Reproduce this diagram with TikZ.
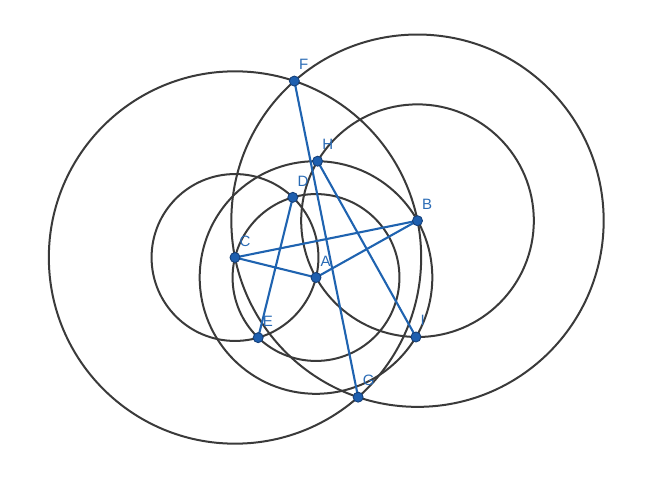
\documentclass[tikz,border=0pt]{standalone}
\usepackage{fontspec}
\setmainfont{Liberation Sans}
\usetikzlibrary{calc}
\definecolor{circcol}{HTML}{3A3A3A}
\definecolor{segcol}{HTML}{1F63B0}
\definecolor{labcol}{HTML}{2A6BB5}
\definecolor{ptfill}{HTML}{1E5FAF}
\definecolor{ptdraw}{HTML}{15407A}
\begin{document}
\begin{tikzpicture}[x=1pt,y=-1pt,
  circ/.style={draw=circcol,line width=2pt},
  seg/.style={draw=segcol,line width=2.1pt},
  pt/.style={circle,fill=ptfill,draw=ptdraw,line width=0.9pt,minimum size=10pt,inner sep=0pt},
  lab/.style={text=labcol,font=\fontsize{15}{15}\selectfont,inner sep=0pt,anchor=south west}]
\useasboundingbox (0,0) rectangle (647,486);
\coordinate (A) at (316,277.5);
\coordinate (B) at (417.5,220.7);
\coordinate (C) at (235,257.5);
\coordinate (D) at ($(C)!1!60:(A)$);
\coordinate (E) at ($(C)!1!-60:(A)$);
\coordinate (H) at ($(A)!1!60:(B)$);
\coordinate (I) at ($(A)!1!-60:(B)$);
\coordinate (F) at ($(C)!1!60:(B)$);
\coordinate (G) at ($(C)!1!-60:(B)$);
% circles
\draw[circ] let \p1=($(A)-(C)$), \n1={veclen(\x1,\y1)} in (C) circle[radius=\n1] (A) circle[radius=\n1];
\draw[circ] let \p1=($(B)-(A)$), \n1={veclen(\x1,\y1)} in (A) circle[radius=\n1] (B) circle[radius=\n1];
\draw[circ] let \p1=($(B)-(C)$), \n1={veclen(\x1,\y1)} in (C) circle[radius=\n1] (B) circle[radius=\n1];
% segments
\draw[seg] (C) -- (B);
\draw[seg] (C) -- (A);
\draw[seg] (A) -- (B);
\draw[seg] (D) -- (E);
\draw[seg] (H) -- (I);
\draw[seg] (F) -- (G);
% points
\foreach \p in {A,B,C,D,E,F,G,H,I}{
  \node[pt] (p\p) at (\p) {};
  \node[lab] (l\p) at ($(\p)+(4.5,-11)$) {\p};
}
\end{tikzpicture}
\end{document}
